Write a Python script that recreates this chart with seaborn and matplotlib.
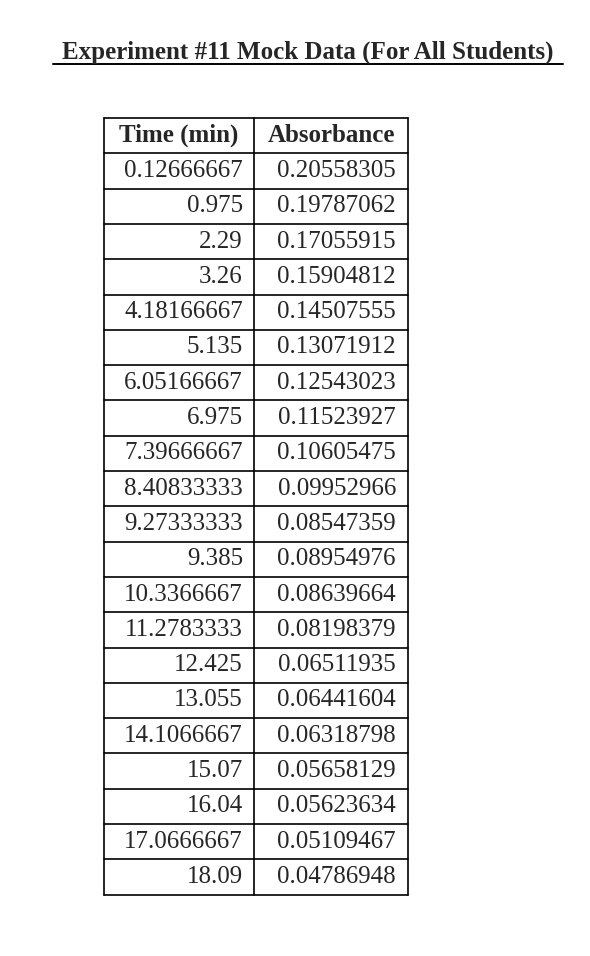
import matplotlib.pyplot as plt
import seaborn as sns

sns.set_style("white")
plt.rcParams["font.family"] = ["Liberation Serif", "DejaVu Serif"]

title = "Experiment #11 Mock Data (For All Students)"
headers = ["Time (min)", "Absorbance"]
times = ["0.12666667", "0.975", "2.29", "3.26", "4.18166667", "5.135", "6.05166667",
         "6.975", "7.39666667", "8.40833333", "9.27333333", "9.385", "10.3366667",
         "11.2783333", "12.425", "13.055", "14.1066667", "15.07", "16.04",
         "17.0666667", "18.09"]
absorbance = ["0.20558305", "0.19787062", "0.17055915", "0.15904812", "0.14507555",
              "0.13071912", "0.12543023", "0.11523927", "0.10605475", "0.09952966",
              "0.08547359", "0.08954976", "0.08639664", "0.08198379", "0.06511935",
              "0.06441604", "0.06318798", "0.05658129", "0.05623634", "0.05109467",
              "0.04786948"]

fig = plt.figure(figsize=(5.9, 9.56), dpi=100)
ax = fig.add_axes([0, 0, 1, 1])
ax.set_xlim(0, 590)
ax.set_ylim(956, 0)
ax.axis("off")

t = ax.text(308, 52, title, ha="center", va="center", fontsize=18, fontweight="bold")
ax.plot([53, 563], [64, 64], color="black", lw=1.4)

left, mid, right = 104, 254, 408
top, row_h = 118, 35.3
n_rows = len(times) + 1
bottom = top + n_rows * row_h

for i in range(n_rows + 1):
    ax.plot([left, right], [top + i * row_h] * 2, color="black", lw=1.2)
for x in (left, mid, right):
    ax.plot([x, x], [top, bottom], color="black", lw=1.2)

ax.text((left + mid) / 2, top + row_h / 2, headers[0], ha="center", va="center",
        fontsize=18, fontweight="bold")
ax.text((mid + right) / 2, top + row_h / 2, headers[1], ha="center", va="center",
        fontsize=18, fontweight="bold")

for i, (tm, ab) in enumerate(zip(times, absorbance), start=1):
    y = top + (i + 0.5) * row_h
    ax.text(mid - 11, y, tm, ha="right", va="center", fontsize=18)
    ax.text(right - 12, y, ab, ha="right", va="center", fontsize=18)

fig.savefig("out.png", dpi=100)
